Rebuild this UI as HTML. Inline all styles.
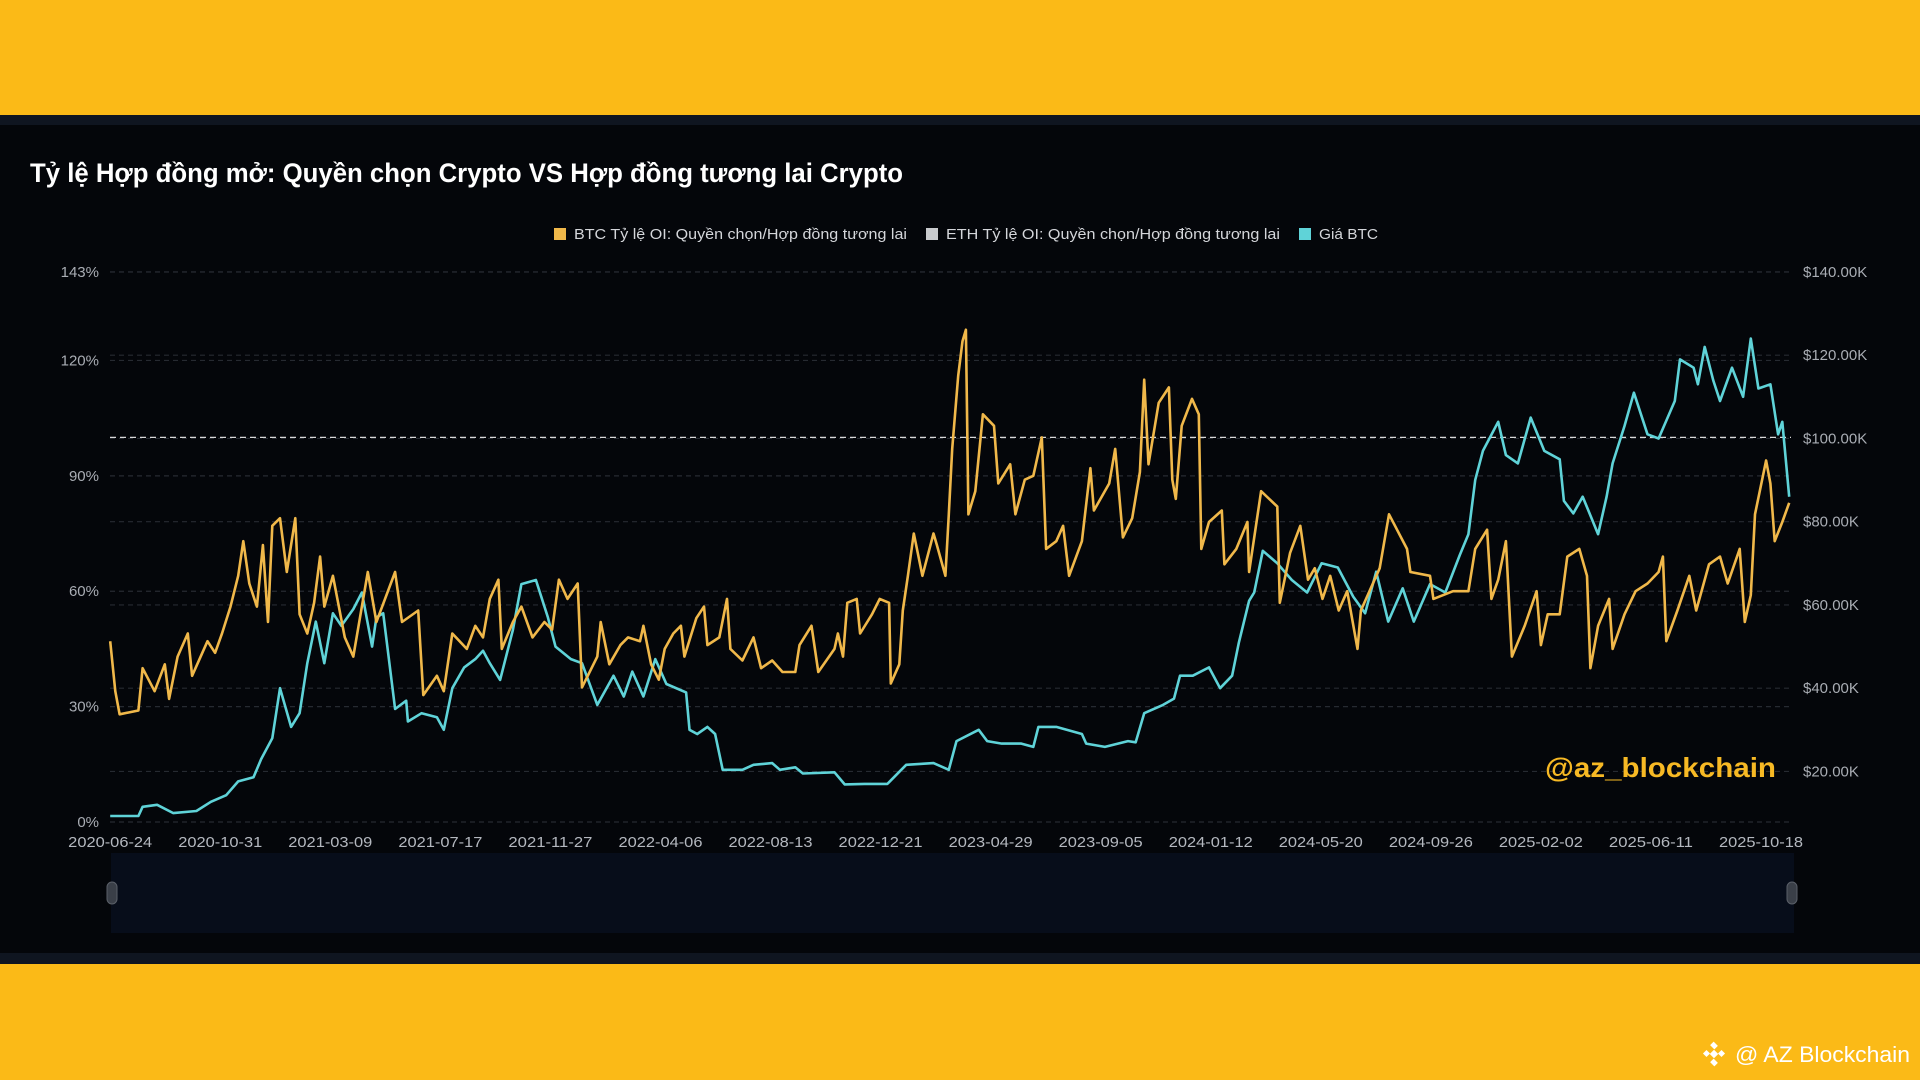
<!DOCTYPE html>
<html><head><meta charset="utf-8"><style>
html,body{margin:0;padding:0;width:1920px;height:1080px;overflow:hidden;background:#fbba17;}
svg{display:block;font-family:"Liberation Sans","Noto Sans CJK SC",sans-serif;}
</style></head><body>
<svg id="chart" width="1920" height="1080" viewBox="0 0 1920 1080">
<rect x="0" y="0" width="1920" height="115" fill="#fbba17"/>
<rect x="0" y="115" width="1920" height="10" fill="#0f1520"/>
<rect x="0" y="125" width="1920" height="828" fill="#04060a"/>
<rect x="0" y="953" width="1920" height="11" fill="#0f1520"/>
<rect x="0" y="964" width="1920" height="116" fill="#fbba17"/>
<text x="30" y="182" fill="#ffffff" font-size="27" font-weight="bold" textLength="873" lengthAdjust="spacingAndGlyphs">Tỷ lệ Hợp đồng mở: Quyền chọn Crypto VS Hợp đồng tương lai Crypto</text>
<g>
<g><rect x="554" y="228" width="12" height="12" fill="#f0b84a"/><text x="574" y="239" fill="#d4d6da" font-size="15" textLength="333" lengthAdjust="spacingAndGlyphs">BTC Tỷ lệ OI: Quyền chọn/Hợp đồng tương lai</text></g>
<g><rect x="926" y="228" width="12" height="12" fill="#c8cacd"/><text x="946" y="239" fill="#d4d6da" font-size="15" textLength="334" lengthAdjust="spacingAndGlyphs">ETH Tỷ lệ OI: Quyền chọn/Hợp đồng tương lai</text></g>
<g><rect x="1299" y="228" width="12" height="12" fill="#5fd3d8"/><text x="1319" y="239" fill="#d4d6da" font-size="15" textLength="59" lengthAdjust="spacingAndGlyphs">Giá BTC</text></g>
</g>
<g id="grid"></g>
<g id="axes"></g>
<g id="series"></g>
<text x="1545" y="777" fill="#f7b924" font-size="28" font-weight="bold" textLength="231" lengthAdjust="spacingAndGlyphs">@az_blockchain</text>
<g>
<rect x="111" y="853" width="1683" height="80" fill="#070d1a"/>
<rect x="107" y="882" width="10" height="22" rx="5" fill="#3a3f48" stroke="#5a5f68"/>
<rect x="1787" y="882" width="10" height="22" rx="5" fill="#3a3f48" stroke="#5a5f68"/>
</g>
<g>
<g transform="translate(1714,1054)" fill="#ffffff">
<rect x="-3" y="-3" width="6" height="6" transform="rotate(45)"/>
<rect x="-10" y="-3" width="5" height="5" transform="rotate(45 -7.5 -0.5)"/>
<rect x="5" y="-3" width="5" height="5" transform="rotate(45 7.5 -0.5)"/>
<rect x="-3" y="-11" width="6" height="5" transform="rotate(45 0 -8.5)"/>
<rect x="-3" y="6" width="6" height="5" transform="rotate(45 0 8.5)"/>
</g>
<text x="1735" y="1062" fill="#ffffff" font-size="22" textLength="175" lengthAdjust="spacingAndGlyphs">@ AZ Blockchain</text>
</g>
</svg>
<script>
const leftTicks = [0, 30, 60, 90, 120, 143];
const rightTicks = [20, 40, 60, 80, 100, 120, 140];
const dateLabels = ["2020-06-24","2020-10-31","2021-03-09","2021-07-17","2021-11-27","2022-04-06","2022-08-13","2022-12-21","2023-04-29","2023-09-05","2024-01-12","2024-05-20","2024-09-26","2025-02-02","2025-06-11","2025-10-18"];
const labelStepDays = 129;
const ratioDays = [0,6,11,33,38,52,64,69,79,91,96,114,123,131,141,150,156,163,172,179,185,190,199,207,217,222,231,239,246,251,261,275,285,302,312,334,342,361,367,383,391,401,418,428,437,445,455,459,472,482,495,509,518,526,536,548,553,571,575,585,598,607,621,625,634,643,650,660,669,673,687,696,700,714,723,727,741,754,763,776,788,803,808,822,830,849,853,859,864,875,879,893,902,913,915,925,929,935,942,952,965,969,979,983,987,994,999,1003,1006,1014,1023,1036,1041,1055,1061,1072,1082,1092,1097,1109,1117,1124,1139,1149,1153,1171,1178,1187,1198,1207,1212,1217,1229,1241,1245,1249,1256,1268,1276,1279,1288,1303,1306,1320,1333,1335,1349,1368,1371,1383,1395,1404,1412,1421,1430,1440,1450,1462,1466,1488,1499,1520,1524,1547,1551,1574,1592,1600,1614,1619,1627,1636,1643,1658,1672,1677,1685,1699,1708,1722,1731,1735,1744,1757,1761,1775,1788,1802,1815,1820,1824,1837,1851,1859,1874,1887,1896,1910,1916,1923,1928,1941,1946,1951,1960,1968];
const ratioValues = [47,34,28,29,40,34,41,32,43,49,38,47,44,49,56,64,73,62,56,72,52,77,79,65,79,54,49,57,69,56,64,48,43,65,52,65,52,55,33,38,34,49,45,51,48,58,63,45,52,56,48,52,50,63,58,62,35,43,52,41,46,48,47,51,41,37,45,49,51,43,53,56,46,48,58,45,42,48,40,42,39,39,46,51,39,45,49,43,57,58,49,54,58,57,36,41,55,64,75,64,75,72,64,80,97,116,125,128,80,86,106,103,88,93,80,89,90,100,71,73,77,64,73,92,81,88,97,74,79,91,115,93,109,113,89,84,103,110,106,71,78,81,67,71,78,65,86,82,57,70,77,63,66,58,64,55,60,45,55,66,80,71,65,64,58,60,60,71,76,58,63,73,43,51,60,46,54,54,69,71,64,40,51,58,45,54,60,62,65,69,47,55,64,55,67,69,62,71,52,59,80,94,88,73,78,83];
const priceDays = [0,33,38,55,74,101,118,136,150,168,177,190,199,212,222,231,241,251,261,271,285,295,307,312,320,334,347,349,365,383,391,401,415,428,437,445,457,472,482,499,513,522,540,553,571,590,602,612,625,639,652,675,679,688,700,709,718,741,754,776,785,803,812,849,861,884,911,933,965,983,992,1018,1028,1045,1068,1082,1088,1109,1139,1144,1166,1193,1202,1212,1234,1247,1254,1269,1288,1301,1315,1323,1335,1341,1351,1368,1385,1403,1420,1439,1457,1471,1484,1498,1515,1528,1547,1565,1582,1592,1600,1609,1627,1636,1650,1665,1681,1699,1704,1715,1726,1744,1754,1761,1775,1786,1802,1815,1834,1840,1856,1861,1869,1879,1887,1901,1914,1923,1932,1946,1955,1960,1968];
const priceValues = [9.3,9.3,11.5,12,10,10.5,12.7,14.3,17.6,18.6,23,28,40,30.7,34,46,56,46,58,55,59,63,50,57,58,35,37,32,34,33,30,40,45,47,49,46,42,54,65,66,57,50,47,46,36,43,38,44,38,47,41,39,30,29,30.7,29,20.4,20.4,21.6,22,20.4,21,19.5,19.8,16.9,17,17,21.6,22,20.4,27.3,30,27.3,26.7,26.7,25.9,30.7,30.7,29,26.7,25.9,27.3,27,34,36,37.5,43,43,45,40,43,51,61,63,73,70,66,63,70,69,62,58,68,56,64,56,65,63,72,77,90,97,104,96,94,105,97,95,85,82,86,77,86,94,103,111,101,100,109,119,117,113,122,114,109,117,110,124,112,113,101,104,86];

const NS = "http://www.w3.org/2000/svg";
const X0 = 110.2, X1 = 1761, lastLabelDay = labelStepDays * (dateLabels.length - 1);
function xScale(d){ return X0 + d / lastLabelDay * (X1 - X0); }
function yLeft(p){ return 822 - p * 550 / 143; }
function yRight(k){ return 854.7 - k * 4.1625; }
function mk(tag, attrs, parent){ const e = document.createElementNS(NS, tag); for (const k in attrs) e.setAttribute(k, attrs[k]); parent.appendChild(e); return e; }
const grid = document.getElementById('grid'), axes = document.getElementById('axes'), series = document.getElementById('series');

leftTicks.forEach(t => {
  const l = mk('line', {x1:110, x2:1791, y1:yLeft(t), y2:yLeft(t), stroke:'#262a31', 'stroke-width':1.2, 'stroke-dasharray':'5 4'}, grid);
  
  
  const tx = mk('text', {x:99, y:yLeft(t)+5, fill:'#a9adb4', 'font-size':15, 'text-anchor':'end'}, axes);
  tx.textContent = t + '%';
  
  
});
rightTicks.forEach(t => {
  const l = mk('line', {x1:110, x2:1791, y1:yRight(t), y2:yRight(t), stroke:'#262a31', 'stroke-width':1.2, 'stroke-dasharray':'5 4'}, grid);
  
  
  const tx = mk('text', {x:1803, y:yRight(t)+5, fill:'#a9adb4', 'font-size':15}, axes);
  tx.textContent = '$' + t.toFixed(2) + 'K';
  
  
});
const ref = mk('line', {x1:110, x2:1791, y1:yLeft(100), y2:yLeft(100), stroke:'#d8d8d8', 'stroke-width':1.3, 'stroke-dasharray':'6 4'}, grid);


dateLabels.forEach((lab, i) => {
  const tx = mk('text', {x:xScale(i*labelStepDays), y:847, fill:'#b4b8bf', 'font-size':15, 'text-anchor':'middle', textLength:84, lengthAdjust:'spacingAndGlyphs'}, axes);
  tx.textContent = lab;
  
  
});
function path(days, vals, yf){ return days.map((d,i)=> (i?'L':'M') + xScale(d).toFixed(1) + ' ' + yf(vals[i]).toFixed(1)).join(''); }
const pPrice = mk('path', {d:path(priceDays, priceValues, yRight), fill:'none', stroke:'#5fd3d8', 'stroke-width':2.6, 'stroke-linejoin':'round'}, series);


const pRatio = mk('path', {d:path(ratioDays, ratioValues, yLeft), fill:'none', stroke:'#f0b84a', 'stroke-width':2.6, 'stroke-linejoin':'round'}, series);


</script>
</body></html>
